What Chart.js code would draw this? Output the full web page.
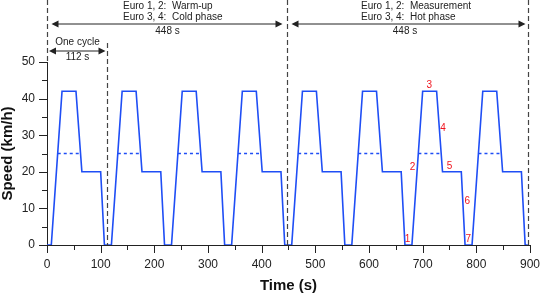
<!DOCTYPE html>
<html lang="en">
<head>
  <meta charset="UTF-8" />
  <title>Urban driving cycle - speed profile</title>
  <script src="https://cdn.jsdelivr.net/npm/chart.js"></script>
  <style>
    body { margin: 0; padding: 0; background: #fff; }
    #wrap { width: 544px; height: 293px; }
  </style>
</head>
<body>
  <div id="wrap"><canvas id="cycleChart" width="544" height="293"></canvas></div>

  <script>
    // one elementary urban cycle (time s, speed km/h), the test repeats it 8 times
    const cycleTimes  = [0, 8, 28, 54, 65, 100, 107, 112];
    const cycleSpeeds = [0, 0, 42, 42, 20, 20, 0, 0];
    const cycleCount  = 8;
    const cycleLength = 112;

    // dotted 25 km/h stretch inside every cycle
    const avgStart = 20;
    const avgEnd   = 61;
    const avgSpeed = 25;

    const xTicks = [0, 100, 200, 300, 400, 500, 600, 700, 800, 900];
    const yTicks = [0, 10, 20, 30, 40, 50];

    // phase borders (s)
    const phaseMarks = [0, 448, 896];

    // red step numbers in the 7th cycle
    const stepLabels = ['1', '2', '3', '4', '5', '6', '7'];
    const stepX = [672, 681, 712.5, 738, 750, 783, 785];
    const stepY = [1.6, 21.3, 43.7, 32, 21.6, 11.9, 1.6];

    const speedData = [];
    const avgData = [];
    for (let c = 0; c < cycleCount; c++) {
      const t0 = c * cycleLength;
      cycleTimes.forEach((t, i) => speedData.push({ x: t0 + t, y: cycleSpeeds[i] }));
      avgData.push({ x: t0 + avgStart, y: avgSpeed }, { x: t0 + avgEnd, y: avgSpeed }, { x: t0 + avgEnd, y: null });
    }

    const ink = '#222';
    const blue = '#1f4ef5';

    function arrowHead(ctx, x, y, dir) {
      ctx.beginPath();
      ctx.moveTo(x, y);
      ctx.lineTo(x - dir * 7, y - 3.5);
      ctx.lineTo(x - dir * 7, y + 3.5);
      ctx.closePath();
      ctx.fill();
    }

    function doubleArrow(ctx, x1, x2, y) {
      ctx.beginPath();
      ctx.moveTo(x1 + 2, y);
      ctx.lineTo(x2 - 2, y);
      ctx.stroke();
      arrowHead(ctx, x1, y, -1);
      arrowHead(ctx, x2, y, 1);
    }

    const decorations = {
      id: 'decorations',
      afterDraw(chart) {
        const { ctx, chartArea } = chart;
        const xs = chart.scales.x, ys = chart.scales.y;
        ctx.save();

        // tick marks, long on labelled values, short in between
        ctx.strokeStyle = ink;
        ctx.lineWidth = 1;
        for (let v = 0; v <= 900; v += 50) {
          const px = Math.round(xs.getPixelForValue(v)) + 0.5;
          const len = v % 100 === 0 ? 8 : 5;
          ctx.beginPath();
          ctx.moveTo(px, chartArea.bottom);
          ctx.lineTo(px, chartArea.bottom + len);
          ctx.stroke();
        }
        for (let v = 0; v <= 50; v += 5) {
          const py = Math.round(ys.getPixelForValue(v)) + 0.5;
          const len = v % 10 === 0 ? 8 : 5;
          ctx.beginPath();
          ctx.moveTo(chartArea.left, py);
          ctx.lineTo(chartArea.left - len, py);
          ctx.stroke();
        }

        // dashed phase borders
        ctx.strokeStyle = '#444';
        ctx.lineWidth = 1.2;
        ctx.setLineDash([5, 3]);
        const xp = v => Math.round(xs.getPixelForValue(v)) + 0.5;
        ctx.beginPath();
        ctx.moveTo(xp(0), 0); ctx.lineTo(xp(0), chartArea.top);
        ctx.moveTo(xp(cycleLength), 43); ctx.lineTo(xp(cycleLength), chartArea.bottom);
        ctx.moveTo(xp(phaseMarks[1]), 0); ctx.lineTo(xp(phaseMarks[1]), chartArea.bottom);
        ctx.moveTo(xp(phaseMarks[2]), 0); ctx.lineTo(xp(phaseMarks[2]), chartArea.bottom);
        ctx.stroke();
        ctx.setLineDash([]);

        // arrows
        ctx.strokeStyle = ink;
        ctx.fillStyle = ink;
        ctx.lineWidth = 1;
        doubleArrow(ctx, xp(phaseMarks[0]) + 4, xp(phaseMarks[1]) - 5, 24);
        doubleArrow(ctx, xp(phaseMarks[1]) + 4, xp(phaseMarks[2]) - 3, 24);
        doubleArrow(ctx, xp(0) + 1.5, xp(cycleLength) - 2, 51);

        // texts
        ctx.font = '10px "Liberation Sans", Arial, sans-serif';
        ctx.textBaseline = 'middle';
        ctx.textAlign = 'left';
        ctx.fillText('Euro 1, 2:  Warm-up', 123, 6);
        ctx.fillText('Euro 3, 4:  Cold phase', 123, 17);
        ctx.fillText('Euro 1, 2:  Measurement', 361, 6);
        ctx.fillText('Euro 3, 4:  Hot phase', 361, 17);
        ctx.textAlign = 'center';
        ctx.fillText('448 s', (xp(0) + xp(448)) / 2, 31);
        ctx.fillText('448 s', (xp(448) + xp(896)) / 2 - 3, 31);
        ctx.fillText('One cycle', (xp(0) + xp(cycleLength)) / 2, 42);
        ctx.fillText('112 s', (xp(0) + xp(cycleLength)) / 2, 57);

        // red step numbers
        ctx.fillStyle = '#f0141e';
        ctx.font = '10px "Liberation Sans", Arial, sans-serif';
        stepLabels.forEach((s, i) => {
          ctx.fillText(s, xs.getPixelForValue(stepX[i]), ys.getPixelForValue(stepY[i]));
        });
        ctx.restore();
      }
    };

    new Chart(document.getElementById('cycleChart'), {
      type: 'line',
      data: {
        datasets: [
          {
            data: speedData,
            borderColor: blue,
            borderWidth: 1.6,
            pointRadius: 0,
            tension: 0
          },
          {
            data: avgData,
            borderColor: blue,
            borderWidth: 1.6,
            borderDash: [3, 3],
            pointRadius: 0,
            spanGaps: false
          }
        ]
      },
      options: {
        responsive: false,
        devicePixelRatio: 1,
        animation: false,
        layout: { padding: { top: 62, right: 10, left: 0, bottom: 0 } },
        plugins: {
          legend: { display: false },
          tooltip: { enabled: false }
        },
        scales: {
          x: {
            type: 'linear',
            min: 0,
            max: 900,
            afterBuildTicks: s => { s.ticks = xTicks.map(v => ({ value: v })); },
            afterFit: s => { s.height = 48; },
            grid: { display: false, drawTicks: true, tickLength: 8 },
            border: { display: true, color: ink, width: 1 },
            ticks: {
              padding: 4,
              color: ink,
              maxRotation: 0,
              font: { family: '"Liberation Sans", Arial, sans-serif', size: 12 }
            },
            title: {
              display: true,
              text: 'Time (s)',
              color: '#111',
              padding: { top: 0, bottom: 0 },
              font: { family: '"Liberation Sans", Arial, sans-serif', size: 15, weight: 'bold', lineHeight: 1 }
            }
          },
          y: {
            min: 0,
            max: 50,
            afterBuildTicks: s => { s.ticks = yTicks.map(v => ({ value: v })); },
            afterFit: s => { s.width = 47; },
            grid: { display: false, drawTicks: true, tickLength: 8 },
            border: { display: true, color: ink, width: 1 },
            ticks: {
              padding: 4,
              color: ink,
              font: { family: '"Liberation Sans", Arial, sans-serif', size: 12 }
            },
            title: {
              display: true,
              text: 'Speed (km/h)',
              color: '#111',
              padding: { top: 0, bottom: 0 },
              font: { family: '"Liberation Sans", Arial, sans-serif', size: 15, weight: 'bold', lineHeight: 1 }
            }
          }
        }
      },
      plugins: [decorations]
    });
  </script>
</body>
</html>
